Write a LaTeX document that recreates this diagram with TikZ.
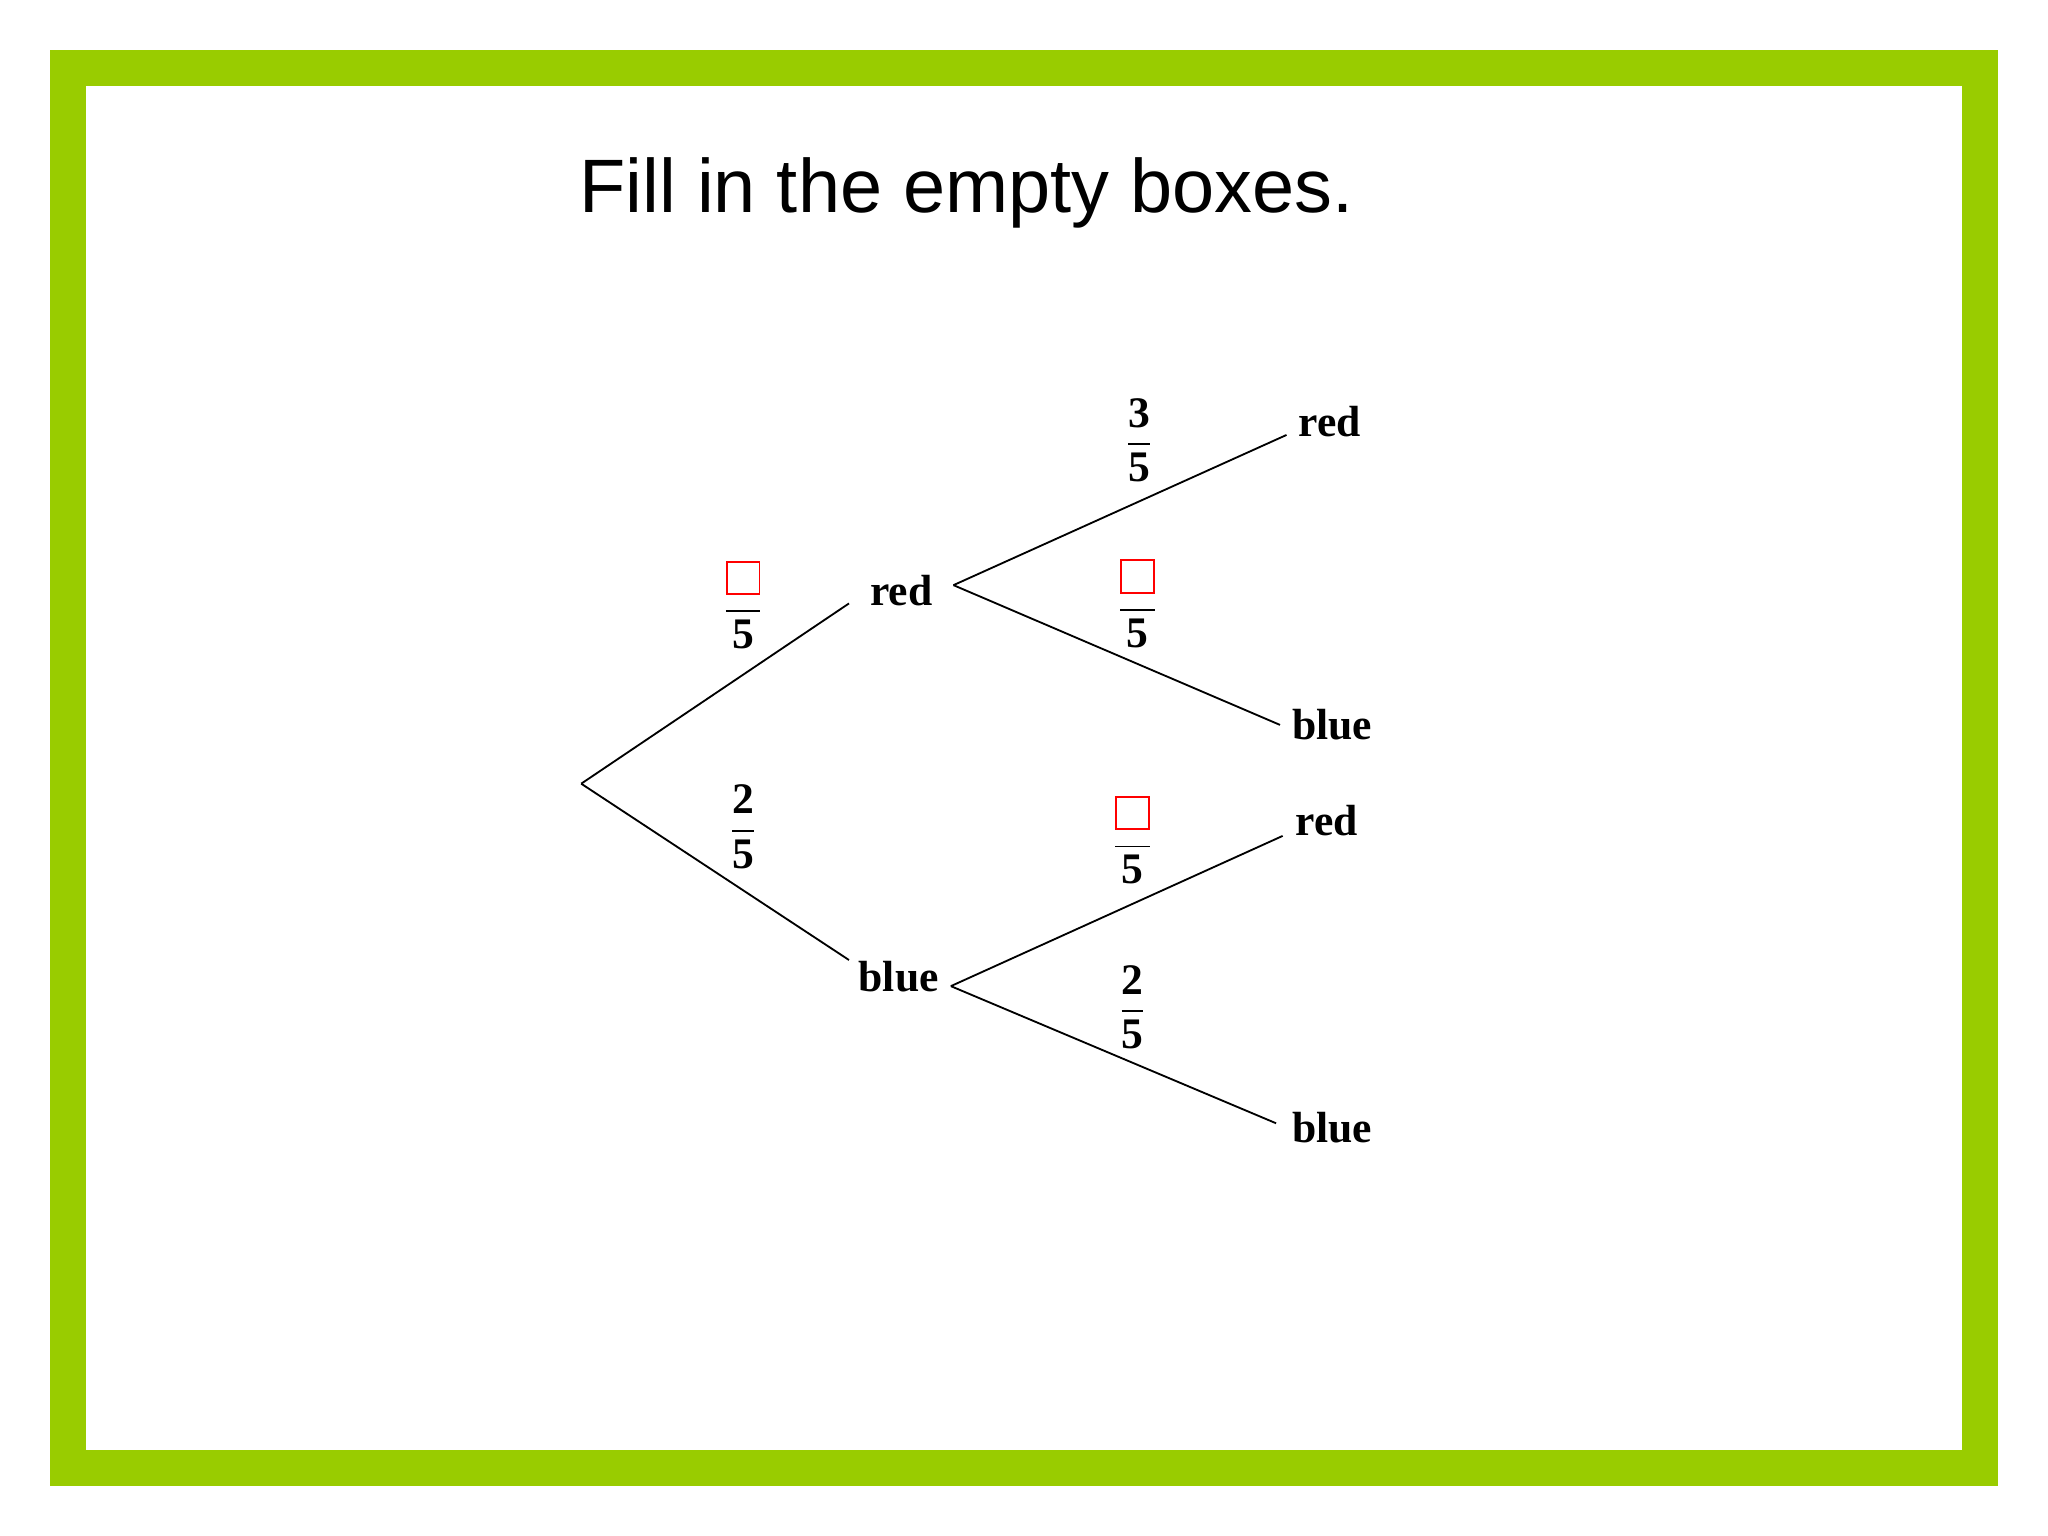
\documentclass[tikz,border=0pt]{standalone}
\usepackage{fontspec}
\usepackage{amsmath}
\setmainfont{Liberation Serif}
\newfontfamily\titlefont{Liberation Sans}
\begin{document}
\begin{tikzpicture}[x=0.02cm,y=-0.02cm,
  lab/.style={font=\fontsize{19}{22}\selectfont\bfseries, inner sep=1pt},
  br/.style={line width=0.8pt},
  frac/.style={font=\fontsize{19}{22}\selectfont\bfseries, inner sep=0pt}]
\newcommand{\rbox}{\tikz[baseline=0pt]\draw[red,line width=0.8pt] (0,0) rectangle (0.5cm,0.5cm);}
\newcommand{\fr}[2]{$\dfrac{\text{#1}}{\text{#2}}$}
\useasboundingbox (0,0) rectangle (1568,1176);
\fill[white] (0,0) rectangle (1568,1176);
\fill[green!60!yellow!90!black, fill={rgb,255:red,153;green,204;blue,0}] (38,38) rectangle (1530,1138);
\fill[white] (66,66) rectangle (1502,1110);
\node[font=\titlefont\fontsize{33}{38}\selectfont] (title) at (740,148) {Fill in the empty boxes.};
\coordinate (root) at (445,600);
\node[lab] (r1) at (690,452) {red};
\node[lab] (b1) at (688,748) {blue};
\node[lab] (rr) at (1018,323) {red};
\node[lab] (rb) at (1020,555) {blue};
\node[lab] (br) at (1016,628) {red};
\node[lab] (bb) at (1020,863) {blue};
\coordinate (r1e) at (650,462);
\coordinate (b1e) at (650,735);
\coordinate (r1s) at (730,448);
\coordinate (b1s) at (728,755);
\coordinate (rre) at (985,333);
\coordinate (rbe) at (980,555);
\coordinate (bre) at (982,640);
\coordinate (bbe) at (977,860);
\draw[br] (root) -- (r1e);
\draw[br] (root) -- (b1e);
\draw[br] (r1s) -- (rre);
\draw[br] (r1s) -- (rbe);
\draw[br] (b1s) -- (bre);
\draw[br] (b1s) -- (bbe);
\node[frac] (f1) at (569,463) {\fr{\rbox}{5}};
\node[frac] (f2) at (569,633) {\fr{2}{5}};
\node[frac] (f3) at (872,337) {\fr{3}{5}};
\node[frac] (f4) at (871,462) {\fr{\rbox}{5}};
\node[frac] (f5) at (867,643) {\fr{\rbox}{5}};
\node[frac] (f6) at (867,771) {\fr{2}{5}};
\end{tikzpicture}
\end{document}
